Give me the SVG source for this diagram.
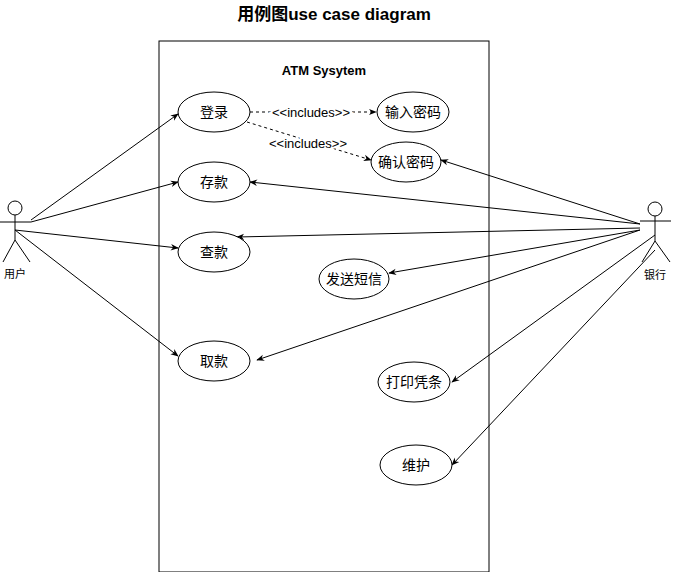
<svg xmlns="http://www.w3.org/2000/svg" width="679" height="572" viewBox="0 0 679 572">
<style>
text{font-family:"Liberation Sans","Noto Sans CJK SC",sans-serif;fill:#000}
.n ellipse{fill:#fff;stroke:#000;stroke-width:1}
.n text{font-size:14px;text-anchor:middle;dominant-baseline:central}
.c line{stroke:#000;stroke-width:1;marker-end:url(#a)}
.d{stroke-dasharray:3,3}
.act{fill:none;stroke:#000;stroke-width:1}
</style>
<defs><marker id="a" viewBox="0 0 10 10" refX="9" refY="5" markerWidth="8" markerHeight="8" orient="auto"><path d="M0,1 L10,5 L0,9 L3,5 Z" fill="#000"/></marker></defs>
<rect width="679" height="572" fill="#fff"/>
<text x="334" y="20" font-size="17" font-weight="bold" text-anchor="middle">用例图use case diagram</text>
<rect x="159" y="41" width="330" height="531" fill="#fff" stroke="#000"/>
<text x="324" y="75" font-size="13" font-weight="bold" text-anchor="middle">ATM Sysytem</text>
<g id="user" class="act"><circle cx="15" cy="208" r="7"/><path d="M15,215V240M0,222H31M15,240L3,262M15,240L30,262"/><text x="15" y="278" font-size="11" text-anchor="middle" stroke="none">用户</text></g>
<g id="bank" class="act"><circle cx="655" cy="209" r="7"/><path d="M655,216V241M640,221H671M655,241L642,262M655,241L670,262"/><text x="655" y="279" font-size="11" text-anchor="middle" stroke="none">银行</text></g>
<g class="c">
<line x1="31" y1="220" x2="178" y2="114"/>
<line x1="31" y1="222" x2="178" y2="182"/>
<line x1="15" y1="230" x2="178" y2="248"/>
<line x1="15" y1="230" x2="178" y2="356"/>
<line x1="640" y1="224" x2="441" y2="160"/>
<line x1="640" y1="224" x2="250" y2="182"/>
<line x1="640" y1="228" x2="237" y2="237"/>
<line x1="640" y1="230" x2="389" y2="273"/>
<line x1="640" y1="230" x2="257" y2="360"/>
<line x1="655" y1="235" x2="452" y2="382"/>
<line x1="655" y1="250" x2="452" y2="465"/>
<line class="d" x1="250" y1="112" x2="376" y2="112"/>
<line class="d" x1="247" y1="122" x2="371" y2="160"/>
<text x="311" y="112" font-size="13" text-anchor="middle" dominant-baseline="central" style="paint-order:stroke" stroke="#fff" stroke-width="4">&lt;&lt;includes&gt;&gt;</text>
<text x="308" y="143" font-size="13" text-anchor="middle" dominant-baseline="central" style="paint-order:stroke" stroke="#fff" stroke-width="4">&lt;&lt;includes&gt;&gt;</text>
</g>
<g id="login" class="n"><ellipse cx="214" cy="112" rx="36" ry="20"/><text x="214" y="112">登录</text></g>
<g id="deposit" class="n"><ellipse cx="214" cy="182" rx="36" ry="20"/><text x="214" y="182">存款</text></g>
<g id="query" class="n"><ellipse cx="214" cy="252" rx="36" ry="20"/><text x="214" y="252">查款</text></g>
<g id="withdraw" class="n"><ellipse cx="214" cy="361" rx="36" ry="20"/><text x="214" y="361">取款</text></g>
<g id="input" class="n"><ellipse cx="413" cy="112" rx="36" ry="20"/><text x="413" y="112">输入密码</text></g>
<g id="confirm" class="n"><ellipse cx="406" cy="162" rx="35" ry="20"/><text x="406" y="162">确认密码</text></g>
<g id="sms" class="n"><ellipse cx="354" cy="279" rx="35" ry="20"/><text x="354" y="279">发送短信</text></g>
<g id="print" class="n"><ellipse cx="414" cy="382" rx="36" ry="20"/><text x="414" y="382">打印凭条</text></g>
<g id="maint" class="n"><ellipse cx="416" cy="465" rx="36" ry="20"/><text x="416" y="465">维护</text></g>
</svg>
